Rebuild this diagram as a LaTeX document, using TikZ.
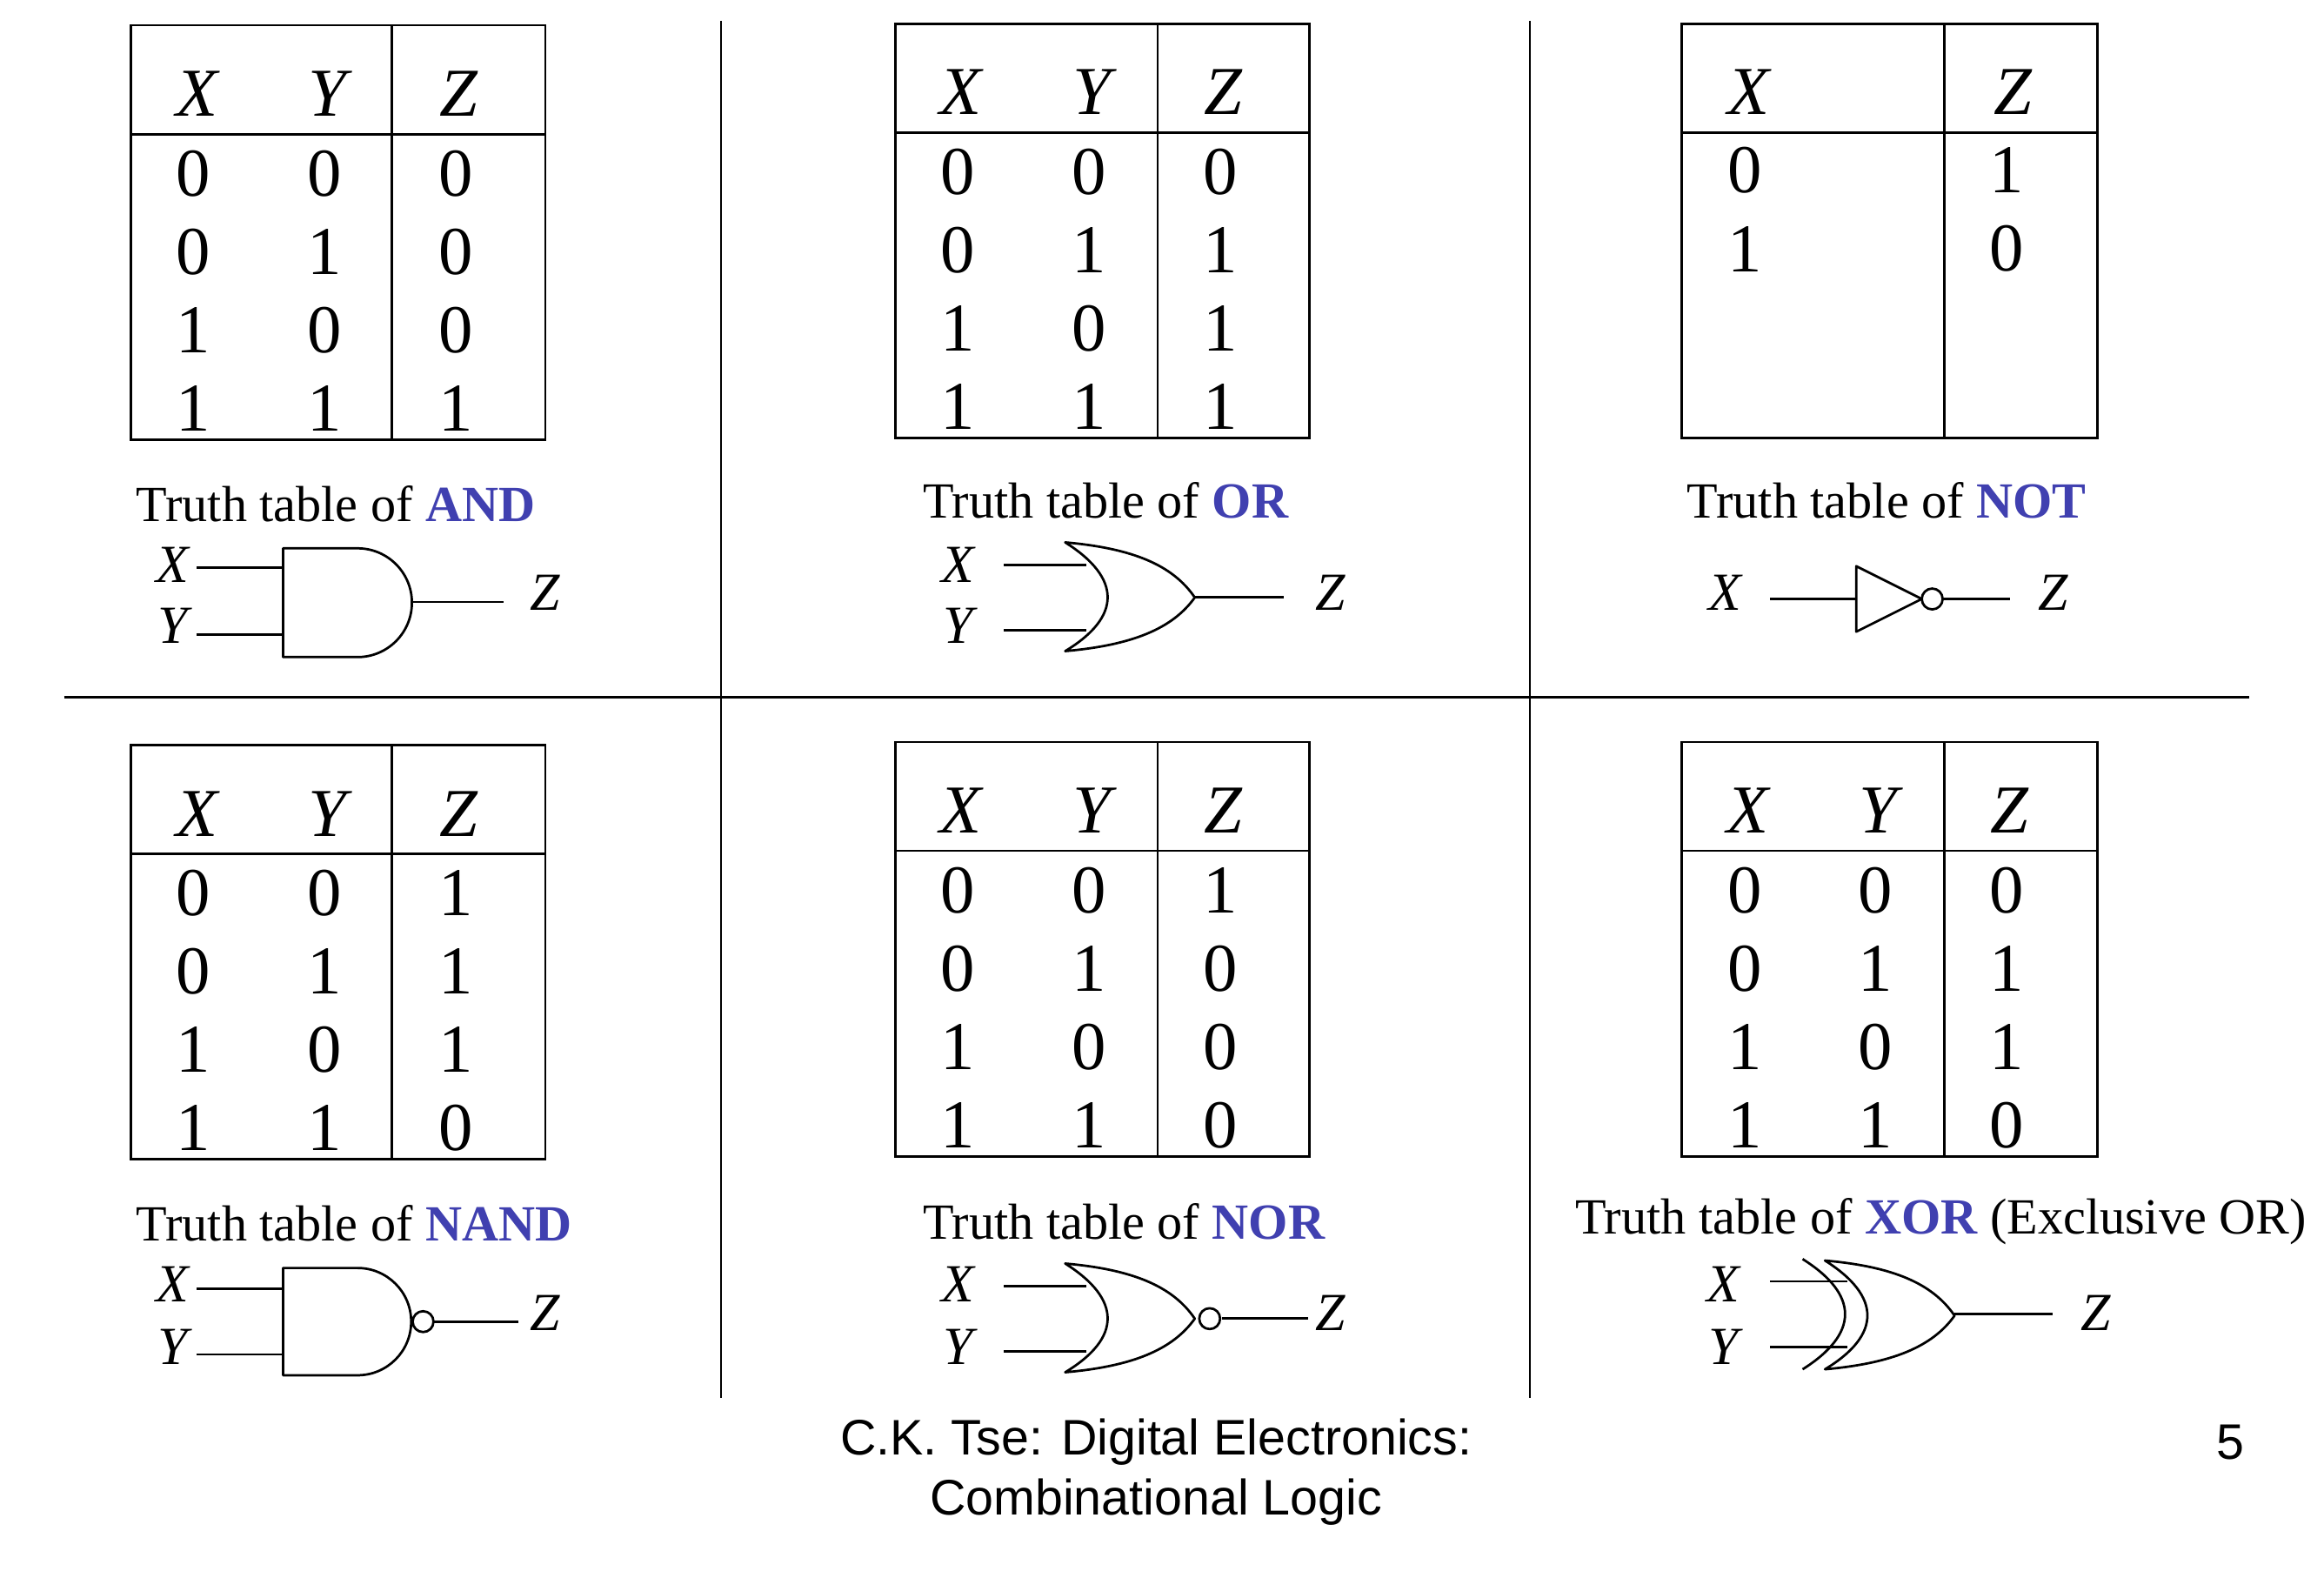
\documentclass[tikz,border=0pt]{standalone}
\usepackage{fontspec}
\setmainfont{Liberation Serif}
\setsansfont{Liberation Sans}
\definecolor{gblue}{RGB}{64,64,176}
\newcommand\tb{\fontsize{46}{50}\selectfont}
\newcommand\cp{\fontsize{34}{36}\selectfont}
\newcommand\gl{\fontsize{36}{38}\selectfont\itshape}
\newcommand\ft{\fontsize{33.5}{40}\selectfont\sffamily}
% OR-shaped body, (#1,#2) = back top corner
\newcommand\orbody[2]{%
  \draw[gate] (#1,#2) .. controls (#1+38,#2+24) and (#1+38,#2+50) .. (#1,#2+73)
     .. controls (#1+45,#2+69) and (#1+72,#2+58) .. (#1+87,#2+37)
     .. controls (#1+72,#2+15) and (#1+45,#2+4) .. cycle;}
\begin{document}
\begin{tikzpicture}[x=1pt,y=-1pt,
  frame/.style={line width=1.6pt},
  gate/.style={line width=1.6pt,line join=round},
  wire/.style={line width=1.6pt}]
\useasboundingbox (0,0) rectangle (1560,1059);
% dividers
\draw[line width=1.6pt] (484,14) -- (484,938) (1027,14) -- (1027,938) (43,468) -- (1510,468);
% tables
\newcommand\ttab[5]{% x0 y0 width divx
  \draw[frame] (#1,#2) rectangle (#1+#3,#2+278);
  \draw[frame] (#1,#2+73) -- (#1+#3,#2+73) (#4,#2) -- (#4,#2+278);}
\ttab{88}{17}{278}{263}{}
\ttab{601}{16}{278}{777}{}
\ttab{1129}{16}{279}{1305}{}
\ttab{88}{500}{278}{263}{}
\ttab{601}{498}{278}{777}{}
\ttab{1129}{498}{279}{1305}{}
\newcommand\entries[7]{%
  \node[font=\tb\itshape] at (#1+2,#4+46) {X};
  \node[font=\tb\itshape] at (#2+2,#4+46) {Y};
  \node[font=\tb\itshape] at (#3+2,#4+46) {Z};
  \foreach \a/\b/\c [count=\i] in {#5} {
    \node[font=\tb] at (#1,#4+47+52.5*\i) {\a};
    \node[font=\tb] at (#2,#4+47+52.5*\i) {\b};
    \node[font=\tb] at (#3,#4+47+52.5*\i) {\c};}}
\entries{130}{218}{306}{17}{0/0/0,0/1/0,1/0/0,1/1/1}{}{}
\entries{643}{731}{819}{16}{0/0/0,0/1/1,1/0/1,1/1/1}{}{}
\entries{130}{218}{306}{500}{0/0/1,0/1/1,1/0/1,1/1/0}{}{}
\entries{643}{731}{819}{498}{0/0/1,0/1/0,1/0/0,1/1/0}{}{}
\entries{1171}{1259}{1347}{498}{0/0/0,0/1/1,1/0/1,1/1/0}{}{}
% NOT table
\node[font=\tb\itshape] at (1174,62) {X};
\node[font=\tb\itshape] at (1351,62) {Z};
\node[font=\tb] at (1171,114) {0};
\node[font=\tb] at (1347,114) {1};
\node[font=\tb] at (1171,167) {1};
\node[font=\tb] at (1347,167) {0};
% captions
\node[font=\cp,anchor=west] (c1) at (88,338) {Truth table of \textbf{\color{gblue}AND}};
\node[font=\cp,anchor=west] (c2) at (616,336) {Truth table of \textbf{\color{gblue}OR}};
\node[font=\cp,anchor=west] (c3) at (1129,336) {Truth table of \textbf{\color{gblue}NOT}};
\node[font=\cp,anchor=west] (c4) at (88,821) {Truth table of \textbf{\color{gblue}NAND}};
\node[font=\cp,anchor=west] (c5) at (616,820) {Truth table of \textbf{\color{gblue}NOR}};
\node[font=\cp,anchor=west] (c6) at (1054,820) {Truth table of \textbf{\color{gblue}XOR} (Exclusive OR)};
% AND gate
\node[font=\gl] at (116,379) {X};
\node[font=\gl] at (116,420) {Y};
\draw[wire] (132,381) -- (190,381) (132,426) -- (190,426) (277,404) -- (338,404);
\draw[gate] (240,368) -- (190,368) -- (190,441) -- (240,441) arc[start angle=90,end angle=-90,radius=36.5];
\node[font=\gl] at (366,398) {Z};
% OR gate
\node[font=\gl] at (643,379) {X};
\node[font=\gl] at (643,420) {Y};
\draw[wire] (674,379) -- (729,379) (674,423) -- (729,423) (802,401) -- (862,401);
\orbody{715}{364}
\node[font=\gl] at (893,398) {Z};
% NOT gate
\node[font=\gl] at (1158,398) {X};
\draw[wire] (1188,402) -- (1246,402) (1304,402) -- (1349,402);
\draw[gate] (1246,380) -- (1290,402) -- (1246,424) -- cycle;
\draw[gate] (1297,402) circle[radius=7];
\node[font=\gl] at (1378,398) {Z};
% NAND gate
\node[font=\gl] at (116,862) {X};
\node[font=\gl] at (116,904) {Y};
\draw[wire] (132,865) -- (190,865) (132,909) -- (190,909) (291,887) -- (348,887);
\draw[gate] (240,851) -- (190,851) -- (190,923) -- (240,923) arc[start angle=90,end angle=-90,radius=36];
\draw[gate] (284,887) circle[radius=7];
\node[font=\gl] at (366,881) {Z};
% NOR gate
\node[font=\gl] at (643,862) {X};
\node[font=\gl] at (643,904) {Y};
\draw[wire] (674,863) -- (729,863) (674,907) -- (729,907) (820,885) -- (878,885);
\orbody{715}{848}
\draw[gate] (812,885) circle[radius=7];
\node[font=\gl] at (893,881) {Z};
% XOR gate
\node[font=\gl] at (1157,862) {X};
\node[font=\gl] at (1157,904) {Y};
\draw[wire] (1188,860) -- (1240,860) (1188,904) -- (1240,904) (1312,882) -- (1378,882);
\orbody{1225}{846}
\draw[gate] (1210,845) .. controls (1248,869) and (1248,895) .. (1210,919);
\node[font=\gl] at (1407,881) {Z};
% footer
\node[font=\ft,align=center] (ft) at (776,988) {C.K. Tse: Digital Electronics:\\Combinational Logic};
\node[font=\ft] (pg) at (1497,968) {5};
\end{tikzpicture}
\end{document}
